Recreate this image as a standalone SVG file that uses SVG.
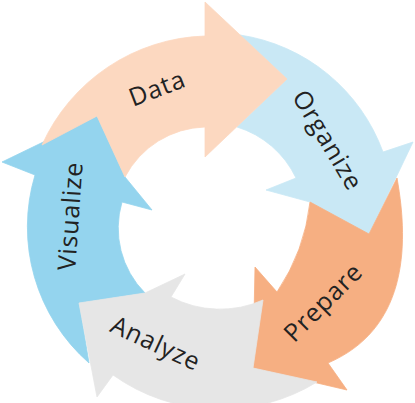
<svg xmlns="http://www.w3.org/2000/svg" width="415" height="403" viewBox="0 0 415 403">
<style>
.arrow{stroke-width:0.8;stroke-linejoin:miter}
.data{fill:#FCD8C0;stroke:#FCD8C0}
.org{fill:#C9E8F5;stroke:#C9E8F5}
.prep{fill:#F6AF82;stroke:#F6AF82}
.ana{fill:#E6E6E6;stroke:#E6E6E6}
.vis{fill:#94D4EE;stroke:#94D4EE}
.lbl{font-family:"Open Sans","Liberation Sans",sans-serif;font-size:25px;letter-spacing:0.9px;fill:#222;text-anchor:middle}
</style>
<rect width="415" height="403" fill="#fff"/>
<g id="connectors"/>
<g id="visualize">
<path class="arrow vis" d="M89,363 A181,181 0 0 1 35,175 L2,162 L97,116 L125,177 L152,210 L122,202 A92,92 0 0 0 145,293 L79,303 Z"/>
<text class="lbl" transform="translate(70,216) rotate(-86)" x="0" y="9">Visualize</text>
</g>
<g id="organize">
<path class="arrow org" d="M240,35 A181,181 0 0 1 383,152 L413,142 L369,234 L310,202 L266,190 L296,178 A97,97 0 0 0 237,127 L287,79 Z"/>
<text class="lbl" transform="translate(328,140) rotate(59)" x="0" y="9">Organize</text>
</g>
<g id="prepare">
<path class="arrow prep" d="M397,178 C410,250 405,330 328,363 L347,390 L253,368 L255,267 L277,292 A200,200 0 0 0 310,202 L369,234 Z"/>
<text class="lbl" transform="translate(323,302) rotate(-45)" x="0" y="9">Prepare</text>
</g>
<g id="analyze">
<path class="arrow ana" d="M317,382 A185,185 0 0 1 113,375 L97,397 L79,303 L145,293 L185,274 L171,297 A105,105 0 0 0 263,300 L253,368 Z"/>
<text class="lbl" transform="translate(156,343) rotate(25)" x="0" y="9">Analyze</text>
</g>
<g id="data">
<path class="arrow data" d="M42,145 A185,185 0 0 1 205,36 L205,2 L287,79 L205,157 L205,127 A93,93 0 0 0 125,177 L97,116 Z"/>
<text class="lbl" transform="translate(157,88) rotate(-21)" x="0" y="9">Data</text>
</g>
</svg>
